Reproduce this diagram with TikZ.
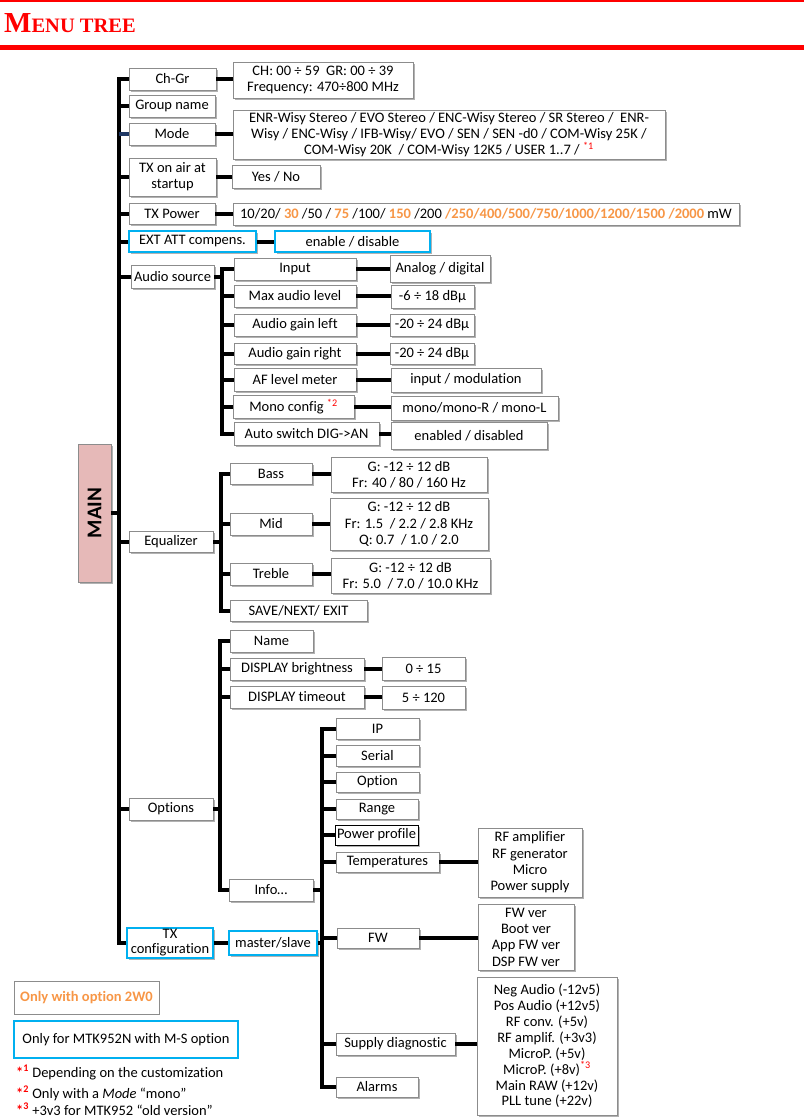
\documentclass[tikz,border=0pt]{standalone}
\usepackage{fontspec}
\setmainfont{Carlito}[Ligatures=NoCommon]
\newfontfamily\titlefont{Liberation Serif}
\usetikzlibrary{shadows}
\definecolor{orng}{HTML}{F79646}
\definecolor{cyanb}{HTML}{00B0F0}
\definecolor{mainfill}{HTML}{E6B9B8}
\definecolor{boxgray}{HTML}{8C8C8C}
\definecolor{navyc}{HTML}{1F3864}
\definecolor{titlered}{HTML}{FF0000}
\newcommand{\og}[1]{\textcolor{orng}{\bfseries #1}}
\newcommand{\rs}[1]{\textcolor{red}{\textsuperscript{#1}}}
\begin{document}
\begin{tikzpicture}[x=1pt,y=-1pt,
  every node/.style={font=\fontsize{14.5}{16.3}\selectfont},
  box/.style={draw=boxgray, line width=0.9pt, fill=white, inner sep=0pt, align=center,
    drop shadow={shadow xshift=1.5pt,shadow yshift=-1.5pt,opacity=0.3,fill=black}},
  bluebox/.style={box, draw=cyanb, line width=1.4pt},
  conn/.style={line width=4pt, line join=miter},
  leg/.style={anchor=base west, inner sep=0pt},
  ]
\useasboundingbox (0,0) rectangle (804,1119);
% title
\fill[titlered] (0,0) rectangle (804,1.5);
\fill[titlered] (0,45) rectangle (804,50);
\node[anchor=base west, inner sep=0pt, text=titlered] (title) at (4,32)
  {\titlefont\bfseries\fontsize{29}{30}\selectfont M\fontsize{20.5}{22}\selectfont ENU TREE};

% MAIN
\node[draw=boxgray, line width=0.9pt, fill=mainfill, minimum width=33, minimum height=138, inner sep=0pt,
  drop shadow={shadow xshift=1.5pt,shadow yshift=-1.5pt,opacity=0.3,fill=black}] (main) at (94.5,513) {};
\node[rotate=90, font=\fontsize{21}{22}\selectfont\bfseries] (maintxt) at (main.center) {MAIN};

% top level
\node[box, minimum width=87, minimum height=22] (chgr) at (172.5,79) {Ch-Gr};
\node[box, minimum width=86, minimum height=22] (grp) at (172,106) {Group name};
\node[box, minimum width=86, minimum height=22] (mode) at (172,134) {Mode};
\node[box, minimum width=87, minimum height=38] (txon) at (172.5,177) {TX on air at\\startup};
\node[box, minimum width=86, minimum height=21] (txpow) at (172,213.5) {TX Power};
\node[bluebox, minimum width=127, minimum height=21] (extatt) at (192.5,241.5) {EXT ATT compens.};
\node[box, minimum width=83, minimum height=23] (audsrc) at (172.5,276.5) {Audio source};
\node[box, minimum width=84, minimum height=21] (eq) at (171,541.5) {Equalizer};
\node[box, minimum width=84, minimum height=22] (opts) at (171,809) {Options};
\node[bluebox, minimum width=86, minimum height=30, font=\fontsize{14.5}{15}\selectfont] (txcfg) at (170,943) {TX\\configuration};

% values top level
\node[box, minimum width=180, minimum height=36, font=\fontsize{14.5}{16}\selectfont] (chv) at (323,80) {CH: 00 ÷ 59\ \ GR: 00 ÷ 39\\Frequency: 470÷800 MHz};
\node[box, minimum width=432, minimum height=49] (modev) at (449,134.5)
  {ENR-Wisy Stereo / EVO Stereo / ENC-Wisy Stereo / SR Stereo /\ \ ENR-\\Wisy / ENC-Wisy / IFB-Wisy/ EVO / SEN / SEN -d0 / COM-Wisy 25K /\\COM-Wisy 20K\ \ / COM-Wisy 12K5 / USER 1..7 / \rs{*1}};
\node[box, minimum width=88, minimum height=23] (yesno) at (276,176.5) {Yes / No};
\node[box, minimum width=506, minimum height=22] (powv) at (486,214)
  {10/20/ \og{30} /50 / \og{75} /100/ \og{150} /200 \og{/250/400/500/750/1000/1200/1500 /2000} mW};
\node[bluebox, minimum width=155, minimum height=21] (enab) at (352.5,241.5) {enable / disable};

% audio source children
\node[box, minimum width=122, minimum height=22] (input) at (295,269) {Input};
\node[box, minimum width=122, minimum height=22] (maxal) at (295,296) {Max audio level};
\node[box, minimum width=122, minimum height=22] (agl) at (295,325) {Audio gain left};
\node[box, minimum width=122, minimum height=21] (agr) at (295,353.5) {Audio gain right};
\node[box, minimum width=122, minimum height=23] (afl) at (295,379.5) {AF level meter};
\node[box, minimum width=121, minimum height=23] (mono) at (293.5,406.5) {Mono config \rs{*2}};
\node[box, minimum width=145, minimum height=23] (auto) at (306.5,433.5) {Auto switch DIG->AN};
\node[box, minimum width=100, minimum height=27] (anav) at (440,268.5) {Analog / digital};
\node[box, minimum width=83, minimum height=23] (maxv) at (432.5,296.5) {-6 ÷ 18 dBµ};
\node[box, minimum width=84, minimum height=22] (aglv) at (432,325) {-20 ÷ 24 dBµ};
\node[box, minimum width=84, minimum height=21] (agrv) at (432,353.5) {-20 ÷ 24 dBµ};
\node[box, minimum width=150, minimum height=24] (aflv) at (466,380) {input / modulation};
\node[box, minimum width=167, minimum height=24] (monov) at (474.5,408) {mono/mono-R / mono-L};
\node[box, minimum width=156, minimum height=27] (autov) at (469,435.5) {enabled / disabled};

% equalizer children
\node[box, minimum width=82, minimum height=21] (bass) at (271,473.5) {Bass};
\node[box, minimum width=82, minimum height=22] (mid) at (271,524) {Mid};
\node[box, minimum width=82, minimum height=22] (treb) at (271,574) {Treble};
\node[box, minimum width=137, minimum height=21] (save) at (298.5,610.5) {SAVE/NEXT/ EXIT};
\node[box, minimum width=156, minimum height=35] (bassv) at (409,474.5) {G: -12 ÷ 12 dB\\Fr: 40 / 80 / 160 Hz};
\node[box, minimum width=158, minimum height=52] (midv) at (409,524) {G: -12 ÷ 12 dB\\Fr: 1.5\ \ / 2.2 / 2.8 KHz\\Q: 0.7\ \ / 1.0 / 2.0};
\node[box, minimum width=159, minimum height=35] (trebv) at (410.5,575.5) {G: -12 ÷ 12 dB\\Fr: 5.0\ \ / 7.0 / 10.0 KHz};

% options children
\node[box, minimum width=83, minimum height=22] (name) at (271.5,641) {Name};
\node[box, minimum width=134, minimum height=22] (dbr) at (297,669) {DISPLAY brightness};
\node[box, minimum width=134, minimum height=22] (dto) at (297,697) {DISPLAY timeout};
\node[box, minimum width=84, minimum height=22] (info) at (271,890) {Info…};
\node[box, minimum width=83, minimum height=23] (dbrv) at (423.5,668.5) {0 ÷ 15};
\node[box, minimum width=83, minimum height=23] (dtov) at (423.5,697.5) {5 ÷ 120};
\node[bluebox, minimum width=88, minimum height=24] (ms) at (273,943) {master/slave};

% info children
\node[box, minimum width=83, minimum height=21] (ip) at (377.5,728.5) {IP};
\node[box, minimum width=83, minimum height=21] (ser) at (377.5,755.5) {Serial};
\node[box, minimum width=83, minimum height=20] (opt) at (377.5,782) {Option};
\node[box, minimum width=82, minimum height=20] (rng) at (377,809) {Range};
\node[box, draw=black, minimum width=83, minimum height=20] (pp) at (376.5,835) {Power profile};
\node[box, minimum width=103, minimum height=20] (temp) at (387.5,862) {Temperatures};
\node[box, minimum width=82, minimum height=20] (fw) at (378,938) {FW};
\node[box, minimum width=119, minimum height=22] (sup) at (395.5,1044) {Supply diagnostic};
\node[box, minimum width=82, minimum height=20] (alm) at (377,1087) {Alarms};
\node[box, minimum width=104, minimum height=69] (tempv) at (530,862.5) {RF amplifier\\RF generator\\Micro\\Power supply};
\node[box, minimum width=96, minimum height=66] (fwv) at (526,937) {FW ver\\Boot ver\\App FW ver\\DSP FW ver};
\node[box, minimum width=140, minimum height=138, font=\fontsize{14.5}{15.9}\selectfont] (supv) at (547,1046)
  {Neg Audio (-12v5)\\Pos Audio (+12v5)\\RF conv. (+5v)\\RF amplif. (+3v3)\\MicroP. (+5v)\\MicroP. (+8v)\rs{*3}\\Main RAW (+12v)\\PLL tune (+22v)};

% legend
\node[draw=boxgray, line width=0.9pt, minimum width=145, minimum height=33, inner sep=0pt] (lg1) at (86.5,997.5) {\og{Only with option 2W0}};
\node[draw=cyanb, line width=2pt, minimum width=224, minimum height=37, inner sep=0pt] (lg2) at (126,1039.5) {Only for MTK952N with M-S option};
\node[leg] (fn1) at (16,1077) {\textcolor{red}{\bfseries *\textsuperscript{1}}\ Depending on the customization};
\node[leg] (fn2) at (16,1098) {\textcolor{red}{\bfseries *\textsuperscript{2}}\ Only with a \textit{Mode} “mono”};
\node[leg] (fn3) at (16,1115) {\textcolor{red}{\bfseries *\textsuperscript{3}}\ +3v3 for MTK952 “old version”};

% trunks
\coordinate (t0) at (119,0);
\coordinate (t1) at (222,0);
\coordinate (t2) at (221,0);
\coordinate (t3) at (220,0);
\coordinate (t4) at (322,0);

\draw[conn] (chgr.west) -- (chgr.west -| t0) -- (txcfg.west -| t0) -- (txcfg.west);
\draw[conn] (main.east) -- (main.east -| t0);
\foreach \n in {grp,txon,txpow,extatt,audsrc,eq,opts}
  \draw[conn] (\n.west -| t0) -- (\n.west);
\draw[conn, navyc] (mode.west -| t0) -- (mode.west);

\draw[conn] (chgr.east) -- (chgr.east -| chv.west);
\draw[conn] (mode.east) -- (mode.east -| modev.west);
\draw[conn] (txon.east) -- (txon.east -| yesno.west);
\draw[conn] (txpow.east) -- (txpow.east -| powv.west);
\draw[conn] (extatt.east) -- (extatt.east -| enab.west);

% audio source
\draw[conn] (audsrc.east) -- (audsrc.east -| t1);
\draw[conn] (input.west) -- (input.west -| t1) -- (auto.west -| t1) -- (auto.west);
\foreach \n in {maxal,agl,agr,afl,mono}
  \draw[conn] (\n.west -| t1) -- (\n.west);
\draw[conn] (input.east) -- (input.east -| anav.west);
\draw[conn] (maxal.east) -- (maxal.east -| maxv.west);
\draw[conn] (agl.east) -- (agl.east -| aglv.west);
\draw[conn] (agr.east) -- (agr.east -| agrv.west);
\draw[conn] (afl.east) -- (afl.east -| aflv.west);
\draw[conn] (mono.east) -- (mono.east -| monov.west);
\draw[conn] (auto.east) -- (auto.east -| autov.west);

% equalizer
\draw[conn] (eq.east) -- (eq.east -| t2);
\draw[conn] (bass.west) -- (bass.west -| t2) -- (save.west -| t2) -- (save.west);
\foreach \n in {mid,treb}
  \draw[conn] (\n.west -| t2) -- (\n.west);
\draw[conn] (bass.east) -- (bass.east -| bassv.west);
\draw[conn] (mid.east) -- (mid.east -| midv.west);
\draw[conn] (treb.east) -- (treb.east -| trebv.west);

% options
\draw[conn] (opts.east) -- (opts.east -| t3);
\draw[conn] (name.west) -- (name.west -| t3) -- (info.west -| t3) -- (info.west);
\foreach \n in {dbr,dto}
  \draw[conn] (\n.west -| t3) -- (\n.west);
\draw[conn] (dbr.east) -- (dbr.east -| dbrv.west);
\draw[conn] (dto.east) -- (dto.east -| dtov.west);

% tx configuration
\draw[conn] (txcfg.east) -- (ms.west);
\draw[conn] (ms.east) -- (ms.east -| t4);

% info
\draw[conn] (info.east) -- (info.east -| t4);
\draw[conn] (ip.west) -- (ip.west -| t4) -- (alm.west -| t4) -- (alm.west);
\foreach \n in {ser,opt,rng,pp,temp,fw,sup}
  \draw[conn] (\n.west -| t4) -- (\n.west);
\draw[conn] (temp.east) -- (temp.east -| tempv.west);
\draw[conn] (fw.east) -- (fw.east -| fwv.west);
\draw[conn] (sup.east) -- (sup.east -| supv.west);
\end{tikzpicture}
\end{document}
